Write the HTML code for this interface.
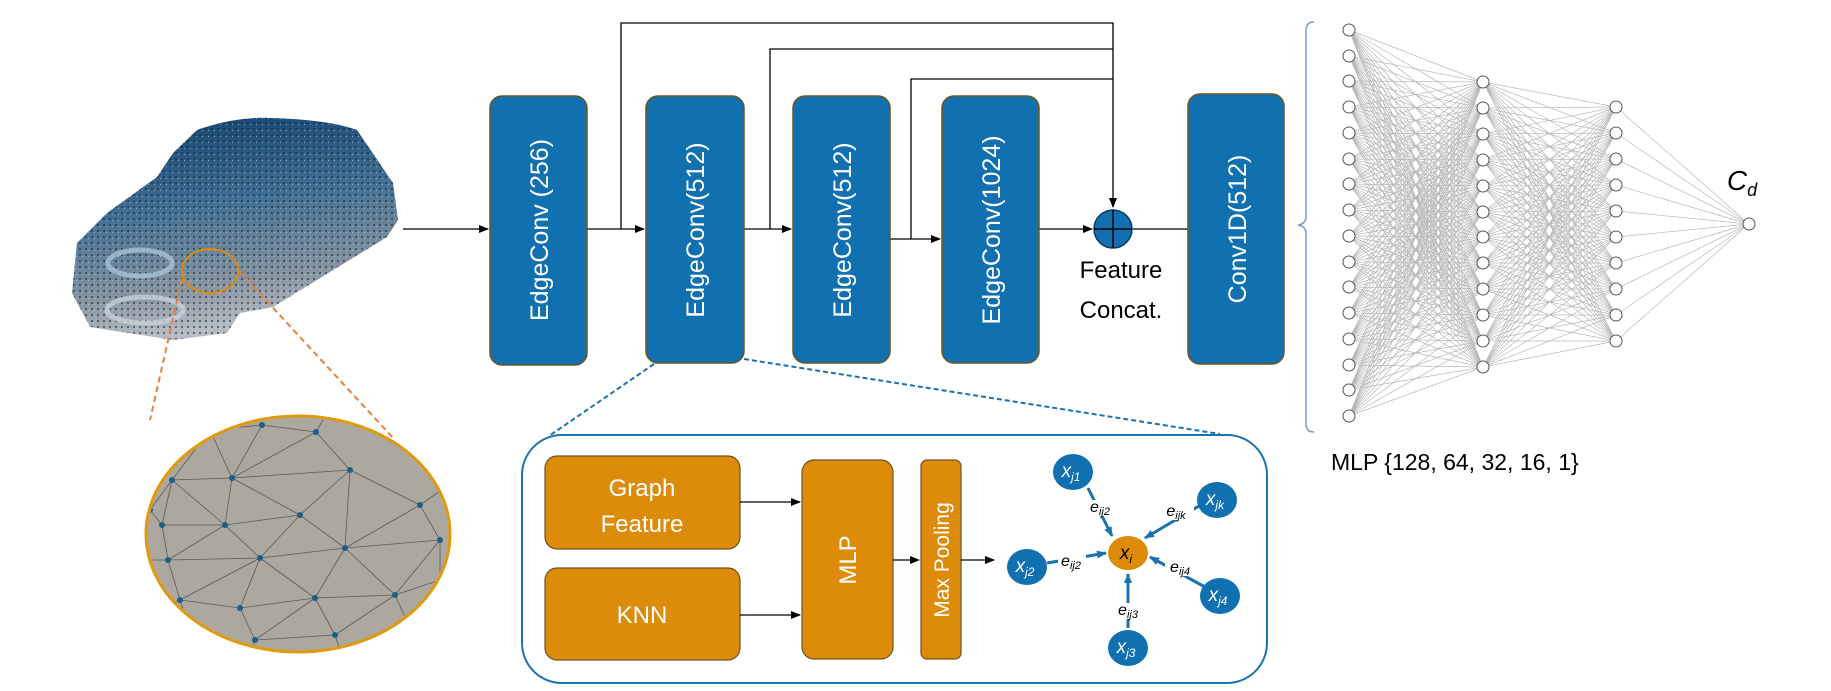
<!DOCTYPE html>
<html><head><meta charset="utf-8"><style>
html,body{margin:0;padding:0;background:#fff;}
svg{display:block;}
text{font-family:"Liberation Sans",sans-serif;}
</style></head><body>
<svg width="1831" height="691" viewBox="0 0 1831 691" xmlns="http://www.w3.org/2000/svg">
<defs>
<marker id="ar" markerWidth="10" markerHeight="10" refX="9" refY="5" orient="auto" markerUnits="userSpaceOnUse"><path d="M0,1 L10,5 L0,9 z" fill="#000"/></marker>
<marker id="ab" markerWidth="10" markerHeight="10" refX="9" refY="5" orient="auto" markerUnits="userSpaceOnUse"><path d="M0,1 L10,5 L0,9 z" fill="#1a72b0"/></marker>
<linearGradient id="car" x1="0" y1="0" x2="0.2" y2="1">
<stop offset="0" stop-color="#0f3f6e"/><stop offset="0.45" stop-color="#3f6f95"/><stop offset="0.8" stop-color="#8594a2"/><stop offset="1" stop-color="#b5bcc4"/></linearGradient>
<pattern id="dots" width="6" height="6" patternUnits="userSpaceOnUse"><rect x="1" y="2" width="2" height="2" fill="#222" opacity="0.55"/><rect x="4" y="4" width="1" height="1" fill="#ddd" opacity="0.6"/></pattern>
<clipPath id="ec"><ellipse cx="298" cy="534" rx="150" ry="116"/></clipPath>
</defs>

<!-- car -->
<path d="M197,130 Q235,116 273,118 Q330,120 357,130 L393,183 L398,220 L387,237 L273,307 L240,313 L227,333 L173,340 L90,327 L72,293 L77,243 L107,213 L157,177 L173,153 Z" fill="url(#car)"/>
<path d="M197,130 Q235,116 273,118 Q330,120 357,130 L393,183 L398,220 L387,237 L273,307 L240,313 L227,333 L173,340 L90,327 L72,293 L77,243 L107,213 L157,177 L173,153 Z" fill="url(#dots)"/>
<ellipse cx="140" cy="263" rx="32" ry="13" fill="none" stroke="#a9c3d6" stroke-width="5" opacity="0.8"/>
<ellipse cx="145" cy="310" rx="38" ry="13" fill="none" stroke="#c7d2dc" stroke-width="5" opacity="0.8"/>
<ellipse cx="210" cy="271" rx="28" ry="22" fill="none" stroke="#d88c10" stroke-width="2"/>
<line x1="182" y1="279" x2="150" y2="420" stroke="#e8803a" stroke-width="2" stroke-dasharray="6,4"/>
<line x1="239" y1="271" x2="395" y2="440" stroke="#e8803a" stroke-width="2" stroke-dasharray="6,4"/>

<!-- zoom circle -->
<ellipse cx="298" cy="534" rx="152" ry="118" fill="#aca89f"/>
<g clip-path="url(#ec)">
<g stroke="#5a5a5a" stroke-width="0.8" fill="none">
<path d="M210,430L262,425L316,432M210,430L172,480M210,430L232,478M262,425L232,478M316,432L232,478M316,432L350,470M172,480L232,478L350,470L420,505M172,480L162,525M172,480L225,525M232,478L225,525M232,478L300,515M350,470L300,515M350,470L345,548M420,505L345,548M420,505L440,540M162,525L225,525L300,515L345,548L440,540M162,525L168,560M225,525L168,560M225,525L260,558M300,515L260,558M260,558L345,548M168,560L260,558M168,560L180,600M260,558L180,600M260,558L240,608M260,558L315,598M345,548L315,598M345,548L395,595M440,540L395,595M440,540L440,580L395,595M180,600L240,608L315,598L395,595M240,608L255,640M315,598L255,640M315,598L335,635M395,595L335,635M255,640L335,635M150,510L162,525M150,510L172,480M210,430L160,400M316,432L340,390M420,505L470,470M440,580L470,600M335,635L350,680M255,640L240,680M180,600L130,620M168,560L130,560M150,510L130,490M180,600L200,660M395,595L420,650"/>
</g>
<g fill="#1a5f8a">
<circle cx="210" cy="430" r="3"/><circle cx="262" cy="425" r="3"/><circle cx="316" cy="432" r="3"/><circle cx="172" cy="480" r="3"/><circle cx="232" cy="478" r="3"/><circle cx="350" cy="470" r="3"/><circle cx="162" cy="525" r="3"/><circle cx="225" cy="525" r="3"/><circle cx="300" cy="515" r="3"/><circle cx="420" cy="505" r="3"/><circle cx="168" cy="560" r="3"/><circle cx="260" cy="558" r="3"/><circle cx="345" cy="548" r="3"/><circle cx="440" cy="540" r="3"/><circle cx="180" cy="600" r="3"/><circle cx="240" cy="608" r="3"/><circle cx="315" cy="598" r="3"/><circle cx="395" cy="595" r="3"/><circle cx="255" cy="640" r="3"/><circle cx="335" cy="635" r="3"/><circle cx="150" cy="510" r="3"/><circle cx="440" cy="580" r="3"/>
</g>
</g>
<ellipse cx="298" cy="534" rx="152" ry="118" fill="none" stroke="#e09a10" stroke-width="3"/>

<!-- main flow -->
<g stroke="#000" stroke-width="1.3" fill="none">
<line x1="403" y1="229" x2="488" y2="229" marker-end="url(#ar)"/>
<line x1="587" y1="229" x2="644" y2="229" marker-end="url(#ar)"/>
<line x1="744" y1="229" x2="791" y2="229" marker-end="url(#ar)"/>
<line x1="890" y1="239" x2="940" y2="239" marker-end="url(#ar)"/>
<line x1="1039" y1="229" x2="1092" y2="229" marker-end="url(#ar)"/>
<line x1="1133" y1="229" x2="1188" y2="229"/>
<polyline points="621,229 621,23 1113,23 1113,207" marker-end="url(#ar)"/>
<polyline points="770,229 770,49 1113,49"/>
<polyline points="911,239 911,79 1113,79"/>
</g>
<circle cx="1113" cy="229" r="19" fill="#1070b0" stroke="#0a3d66" stroke-width="1.5"/>
<line x1="1094" y1="229" x2="1132" y2="229" stroke="#000" stroke-width="1.5"/>
<line x1="1113" y1="210" x2="1113" y2="248" stroke="#000" stroke-width="1.5"/>
<text x="1121" y="278" font-size="24" text-anchor="middle" fill="#000">Feature</text>
<text x="1121" y="318" font-size="24" text-anchor="middle" fill="#000">Concat.</text>

<g fill="#1070b0" stroke="#6b5520" stroke-width="1.5">
<rect x="490" y="96" width="97" height="269" rx="12"/>
<rect x="646" y="96" width="98" height="267" rx="12"/>
<rect x="793" y="96" width="97" height="267" rx="12"/>
<rect x="942" y="96" width="97" height="267" rx="12"/>
<rect x="1188" y="94" width="96" height="270" rx="12"/>
</g>
<g fill="#fff" font-size="25" text-anchor="middle">
<text transform="translate(548,230) rotate(-90)">EdgeConv (256)</text>
<text transform="translate(704,230) rotate(-90)">EdgeConv(512)</text>
<text transform="translate(851,230) rotate(-90)">EdgeConv(512)</text>
<text transform="translate(1000,230) rotate(-90)">EdgeConv(1024)</text>
<text transform="translate(1246,229) rotate(-90)">Conv1D(512)</text>
</g>

<!-- blue dashed -->
<line x1="654" y1="364" x2="549" y2="436" stroke="#1a72b0" stroke-width="2" stroke-dasharray="5,3"/>
<line x1="744" y1="359" x2="1220" y2="434" stroke="#1a72b0" stroke-width="2" stroke-dasharray="5,3"/>

<!-- bottom box -->
<rect x="522" y="435" width="745" height="248" rx="40" fill="#fff" stroke="#1a72b0" stroke-width="2"/>
<g fill="#dc8c08" stroke="#6b5520" stroke-width="1.2">
<rect x="545" y="456" width="195" height="93" rx="12"/>
<rect x="545" y="568" width="195" height="92" rx="12"/>
<rect x="802" y="460" width="91" height="199" rx="12"/>
<rect x="921" y="460" width="40" height="199" rx="6"/>
</g>
<g fill="#fff" font-size="24" text-anchor="middle">
<text x="642" y="496">Graph</text>
<text x="642" y="532">Feature</text>
<text x="642" y="623">KNN</text>
<text transform="translate(856,560) rotate(-90)">MLP</text>
<text transform="translate(949,560) rotate(-90)" font-size="21">Max Pooling</text>
</g>
<g stroke="#000" stroke-width="1.3">
<line x1="740" y1="502" x2="800" y2="502" marker-end="url(#ar)"/>
<line x1="740" y1="615" x2="800" y2="615" marker-end="url(#ar)"/>
<line x1="893" y1="560" x2="919" y2="560" marker-end="url(#ar)"/>
<line x1="961" y1="560" x2="994" y2="560" marker-end="url(#ar)"/>
</g>
<!-- graph -->
<g stroke="#1a72b0" stroke-width="3">
<line x1="1088" y1="488" x2="1112" y2="536" marker-end="url(#ab)"/>
<line x1="1199" y1="506" x2="1145" y2="538" marker-end="url(#ab)"/>
<line x1="1047" y1="563" x2="1106" y2="553" marker-end="url(#ab)"/>
<line x1="1205" y1="587" x2="1150" y2="557" marker-end="url(#ab)"/>
<line x1="1128" y1="628" x2="1128" y2="574" marker-end="url(#ab)"/>
</g>
<g fill="#fff"><rect x="1090" y="500" width="26" height="16"/><rect x="1162" y="504" width="32" height="16"/><rect x="1058" y="554" width="28" height="16"/><rect x="1165" y="560" width="30" height="16"/><rect x="1114" y="603" width="28" height="16"/></g>
<ellipse cx="1128" cy="553" rx="20" ry="17" fill="#dc8c08"/>
<g fill="#1070b0">
<ellipse cx="1073" cy="472" rx="20" ry="18"/><ellipse cx="1217" cy="500" rx="20" ry="18"/>
<ellipse cx="1027" cy="567" rx="20" ry="18"/><ellipse cx="1220" cy="596" rx="20" ry="18"/>
<ellipse cx="1128" cy="648" rx="20" ry="18"/>
</g>
<g font-family="Liberation Serif,serif" font-style="italic" font-size="19" text-anchor="middle">
<text x="1126" y="559" fill="#000">x<tspan font-size="12" dy="4">i</tspan></text>
<g fill="#fff">
<text x="1071" y="477">x<tspan font-size="12" dy="4">j1</tspan></text>
<text x="1215" y="505">x<tspan font-size="12" dy="4">jk</tspan></text>
<text x="1025" y="572">x<tspan font-size="12" dy="4">j2</tspan></text>
<text x="1218" y="601">x<tspan font-size="12" dy="4">j4</tspan></text>
<text x="1126" y="653">x<tspan font-size="12" dy="4">j3</tspan></text>
</g>
<g fill="#000" font-size="16">
<text x="1100" y="512">e<tspan font-size="11" dy="3">ij2</tspan></text>
<text x="1176" y="516">e<tspan font-size="11" dy="3">ijk</tspan></text>
<text x="1071" y="566">e<tspan font-size="11" dy="3">ij2</tspan></text>
<text x="1180" y="572">e<tspan font-size="11" dy="3">ij4</tspan></text>
<text x="1128" y="615">e<tspan font-size="11" dy="3">ij3</tspan></text>
</g>
</g>

<!-- MLP -->
<path d="M1314,22 Q1306,22 1306,30 L1306,216 Q1306,224 1298,225 Q1306,226 1306,234 L1306,424 Q1306,432 1314,432" fill="none" stroke="#7a9cc8" stroke-width="1.5"/>
<g stroke="#b8b8b8" stroke-width="0.7" fill="none">
<path d="M1483 82L1349 30L1483 108L1349 30L1483 134L1349 30L1483 160L1349 30L1483 186L1349 30L1483 212L1349 30L1483 237L1349 30L1483 263L1349 30L1483 289L1349 30L1483 315L1349 30L1483 341L1349 30L1483 367"/>
<path d="M1483 82L1349 56L1483 108L1349 56L1483 134L1349 56L1483 160L1349 56L1483 186L1349 56L1483 212L1349 56L1483 237L1349 56L1483 263L1349 56L1483 289L1349 56L1483 315L1349 56L1483 341L1349 56L1483 367"/>
<path d="M1483 82L1349 81L1483 108L1349 81L1483 134L1349 81L1483 160L1349 81L1483 186L1349 81L1483 212L1349 81L1483 237L1349 81L1483 263L1349 81L1483 289L1349 81L1483 315L1349 81L1483 341L1349 81L1483 367"/>
<path d="M1483 82L1349 107L1483 108L1349 107L1483 134L1349 107L1483 160L1349 107L1483 186L1349 107L1483 212L1349 107L1483 237L1349 107L1483 263L1349 107L1483 289L1349 107L1483 315L1349 107L1483 341L1349 107L1483 367"/>
<path d="M1483 82L1349 133L1483 108L1349 133L1483 134L1349 133L1483 160L1349 133L1483 186L1349 133L1483 212L1349 133L1483 237L1349 133L1483 263L1349 133L1483 289L1349 133L1483 315L1349 133L1483 341L1349 133L1483 367"/>
<path d="M1483 82L1349 159L1483 108L1349 159L1483 134L1349 159L1483 160L1349 159L1483 186L1349 159L1483 212L1349 159L1483 237L1349 159L1483 263L1349 159L1483 289L1349 159L1483 315L1349 159L1483 341L1349 159L1483 367"/>
<path d="M1483 82L1349 184L1483 108L1349 184L1483 134L1349 184L1483 160L1349 184L1483 186L1349 184L1483 212L1349 184L1483 237L1349 184L1483 263L1349 184L1483 289L1349 184L1483 315L1349 184L1483 341L1349 184L1483 367"/>
<path d="M1483 82L1349 210L1483 108L1349 210L1483 134L1349 210L1483 160L1349 210L1483 186L1349 210L1483 212L1349 210L1483 237L1349 210L1483 263L1349 210L1483 289L1349 210L1483 315L1349 210L1483 341L1349 210L1483 367"/>
<path d="M1483 82L1349 236L1483 108L1349 236L1483 134L1349 236L1483 160L1349 236L1483 186L1349 236L1483 212L1349 236L1483 237L1349 236L1483 263L1349 236L1483 289L1349 236L1483 315L1349 236L1483 341L1349 236L1483 367"/>
<path d="M1483 82L1349 262L1483 108L1349 262L1483 134L1349 262L1483 160L1349 262L1483 186L1349 262L1483 212L1349 262L1483 237L1349 262L1483 263L1349 262L1483 289L1349 262L1483 315L1349 262L1483 341L1349 262L1483 367"/>
<path d="M1483 82L1349 287L1483 108L1349 287L1483 134L1349 287L1483 160L1349 287L1483 186L1349 287L1483 212L1349 287L1483 237L1349 287L1483 263L1349 287L1483 289L1349 287L1483 315L1349 287L1483 341L1349 287L1483 367"/>
<path d="M1483 82L1349 313L1483 108L1349 313L1483 134L1349 313L1483 160L1349 313L1483 186L1349 313L1483 212L1349 313L1483 237L1349 313L1483 263L1349 313L1483 289L1349 313L1483 315L1349 313L1483 341L1349 313L1483 367"/>
<path d="M1483 82L1349 339L1483 108L1349 339L1483 134L1349 339L1483 160L1349 339L1483 186L1349 339L1483 212L1349 339L1483 237L1349 339L1483 263L1349 339L1483 289L1349 339L1483 315L1349 339L1483 341L1349 339L1483 367"/>
<path d="M1483 82L1349 365L1483 108L1349 365L1483 134L1349 365L1483 160L1349 365L1483 186L1349 365L1483 212L1349 365L1483 237L1349 365L1483 263L1349 365L1483 289L1349 365L1483 315L1349 365L1483 341L1349 365L1483 367"/>
<path d="M1483 82L1349 390L1483 108L1349 390L1483 134L1349 390L1483 160L1349 390L1483 186L1349 390L1483 212L1349 390L1483 237L1349 390L1483 263L1349 390L1483 289L1349 390L1483 315L1349 390L1483 341L1349 390L1483 367"/>
<path d="M1483 82L1349 416L1483 108L1349 416L1483 134L1349 416L1483 160L1349 416L1483 186L1349 416L1483 212L1349 416L1483 237L1349 416L1483 263L1349 416L1483 289L1349 416L1483 315L1349 416L1483 341L1349 416L1483 367"/>
<path d="M1616 107L1483 82L1616 133L1483 82L1616 159L1483 82L1616 185L1483 82L1616 211L1483 82L1616 237L1483 82L1616 263L1483 82L1616 289L1483 82L1616 315L1483 82L1616 341"/>
<path d="M1616 107L1483 108L1616 133L1483 108L1616 159L1483 108L1616 185L1483 108L1616 211L1483 108L1616 237L1483 108L1616 263L1483 108L1616 289L1483 108L1616 315L1483 108L1616 341"/>
<path d="M1616 107L1483 134L1616 133L1483 134L1616 159L1483 134L1616 185L1483 134L1616 211L1483 134L1616 237L1483 134L1616 263L1483 134L1616 289L1483 134L1616 315L1483 134L1616 341"/>
<path d="M1616 107L1483 160L1616 133L1483 160L1616 159L1483 160L1616 185L1483 160L1616 211L1483 160L1616 237L1483 160L1616 263L1483 160L1616 289L1483 160L1616 315L1483 160L1616 341"/>
<path d="M1616 107L1483 186L1616 133L1483 186L1616 159L1483 186L1616 185L1483 186L1616 211L1483 186L1616 237L1483 186L1616 263L1483 186L1616 289L1483 186L1616 315L1483 186L1616 341"/>
<path d="M1616 107L1483 212L1616 133L1483 212L1616 159L1483 212L1616 185L1483 212L1616 211L1483 212L1616 237L1483 212L1616 263L1483 212L1616 289L1483 212L1616 315L1483 212L1616 341"/>
<path d="M1616 107L1483 237L1616 133L1483 237L1616 159L1483 237L1616 185L1483 237L1616 211L1483 237L1616 237L1483 237L1616 263L1483 237L1616 289L1483 237L1616 315L1483 237L1616 341"/>
<path d="M1616 107L1483 263L1616 133L1483 263L1616 159L1483 263L1616 185L1483 263L1616 211L1483 263L1616 237L1483 263L1616 263L1483 263L1616 289L1483 263L1616 315L1483 263L1616 341"/>
<path d="M1616 107L1483 289L1616 133L1483 289L1616 159L1483 289L1616 185L1483 289L1616 211L1483 289L1616 237L1483 289L1616 263L1483 289L1616 289L1483 289L1616 315L1483 289L1616 341"/>
<path d="M1616 107L1483 315L1616 133L1483 315L1616 159L1483 315L1616 185L1483 315L1616 211L1483 315L1616 237L1483 315L1616 263L1483 315L1616 289L1483 315L1616 315L1483 315L1616 341"/>
<path d="M1616 107L1483 341L1616 133L1483 341L1616 159L1483 341L1616 185L1483 341L1616 211L1483 341L1616 237L1483 341L1616 263L1483 341L1616 289L1483 341L1616 315L1483 341L1616 341"/>
<path d="M1616 107L1483 367L1616 133L1483 367L1616 159L1483 367L1616 185L1483 367L1616 211L1483 367L1616 237L1483 367L1616 263L1483 367L1616 289L1483 367L1616 315L1483 367L1616 341"/>
<path d="M1616 107L1749 224L1616 133M1749 224L1616 159M1749 224L1616 185M1749 224L1616 211M1749 224L1616 237M1749 224L1616 263M1749 224L1616 289M1749 224L1616 315M1749 224L1616 341"/>
</g>
<g fill="#fff" stroke="#555" stroke-width="1">
<circle cx="1349" cy="30" r="6"/><circle cx="1349" cy="56" r="6"/><circle cx="1349" cy="81" r="6"/><circle cx="1349" cy="107" r="6"/><circle cx="1349" cy="133" r="6"/><circle cx="1349" cy="159" r="6"/><circle cx="1349" cy="184" r="6"/><circle cx="1349" cy="210" r="6"/><circle cx="1349" cy="236" r="6"/><circle cx="1349" cy="262" r="6"/><circle cx="1349" cy="287" r="6"/><circle cx="1349" cy="313" r="6"/><circle cx="1349" cy="339" r="6"/><circle cx="1349" cy="365" r="6"/><circle cx="1349" cy="390" r="6"/><circle cx="1349" cy="416" r="6"/>
<circle cx="1483" cy="82" r="6"/><circle cx="1483" cy="108" r="6"/><circle cx="1483" cy="134" r="6"/><circle cx="1483" cy="160" r="6"/><circle cx="1483" cy="186" r="6"/><circle cx="1483" cy="212" r="6"/><circle cx="1483" cy="237" r="6"/><circle cx="1483" cy="263" r="6"/><circle cx="1483" cy="289" r="6"/><circle cx="1483" cy="315" r="6"/><circle cx="1483" cy="341" r="6"/><circle cx="1483" cy="367" r="6"/>
<circle cx="1616" cy="107" r="6"/><circle cx="1616" cy="133" r="6"/><circle cx="1616" cy="159" r="6"/><circle cx="1616" cy="185" r="6"/><circle cx="1616" cy="211" r="6"/><circle cx="1616" cy="237" r="6"/><circle cx="1616" cy="263" r="6"/><circle cx="1616" cy="289" r="6"/><circle cx="1616" cy="315" r="6"/><circle cx="1616" cy="341" r="6"/>
<circle cx="1749" cy="224" r="6"/>
</g>
<text x="1742" y="190" font-family="Liberation Serif,serif" font-style="italic" font-size="28" text-anchor="middle">C<tspan font-size="18" dy="6">d</tspan></text>
<text x="1331" y="470" font-size="23">MLP {128, 64, 32, 16, 1}</text>
</svg>
</body></html>
